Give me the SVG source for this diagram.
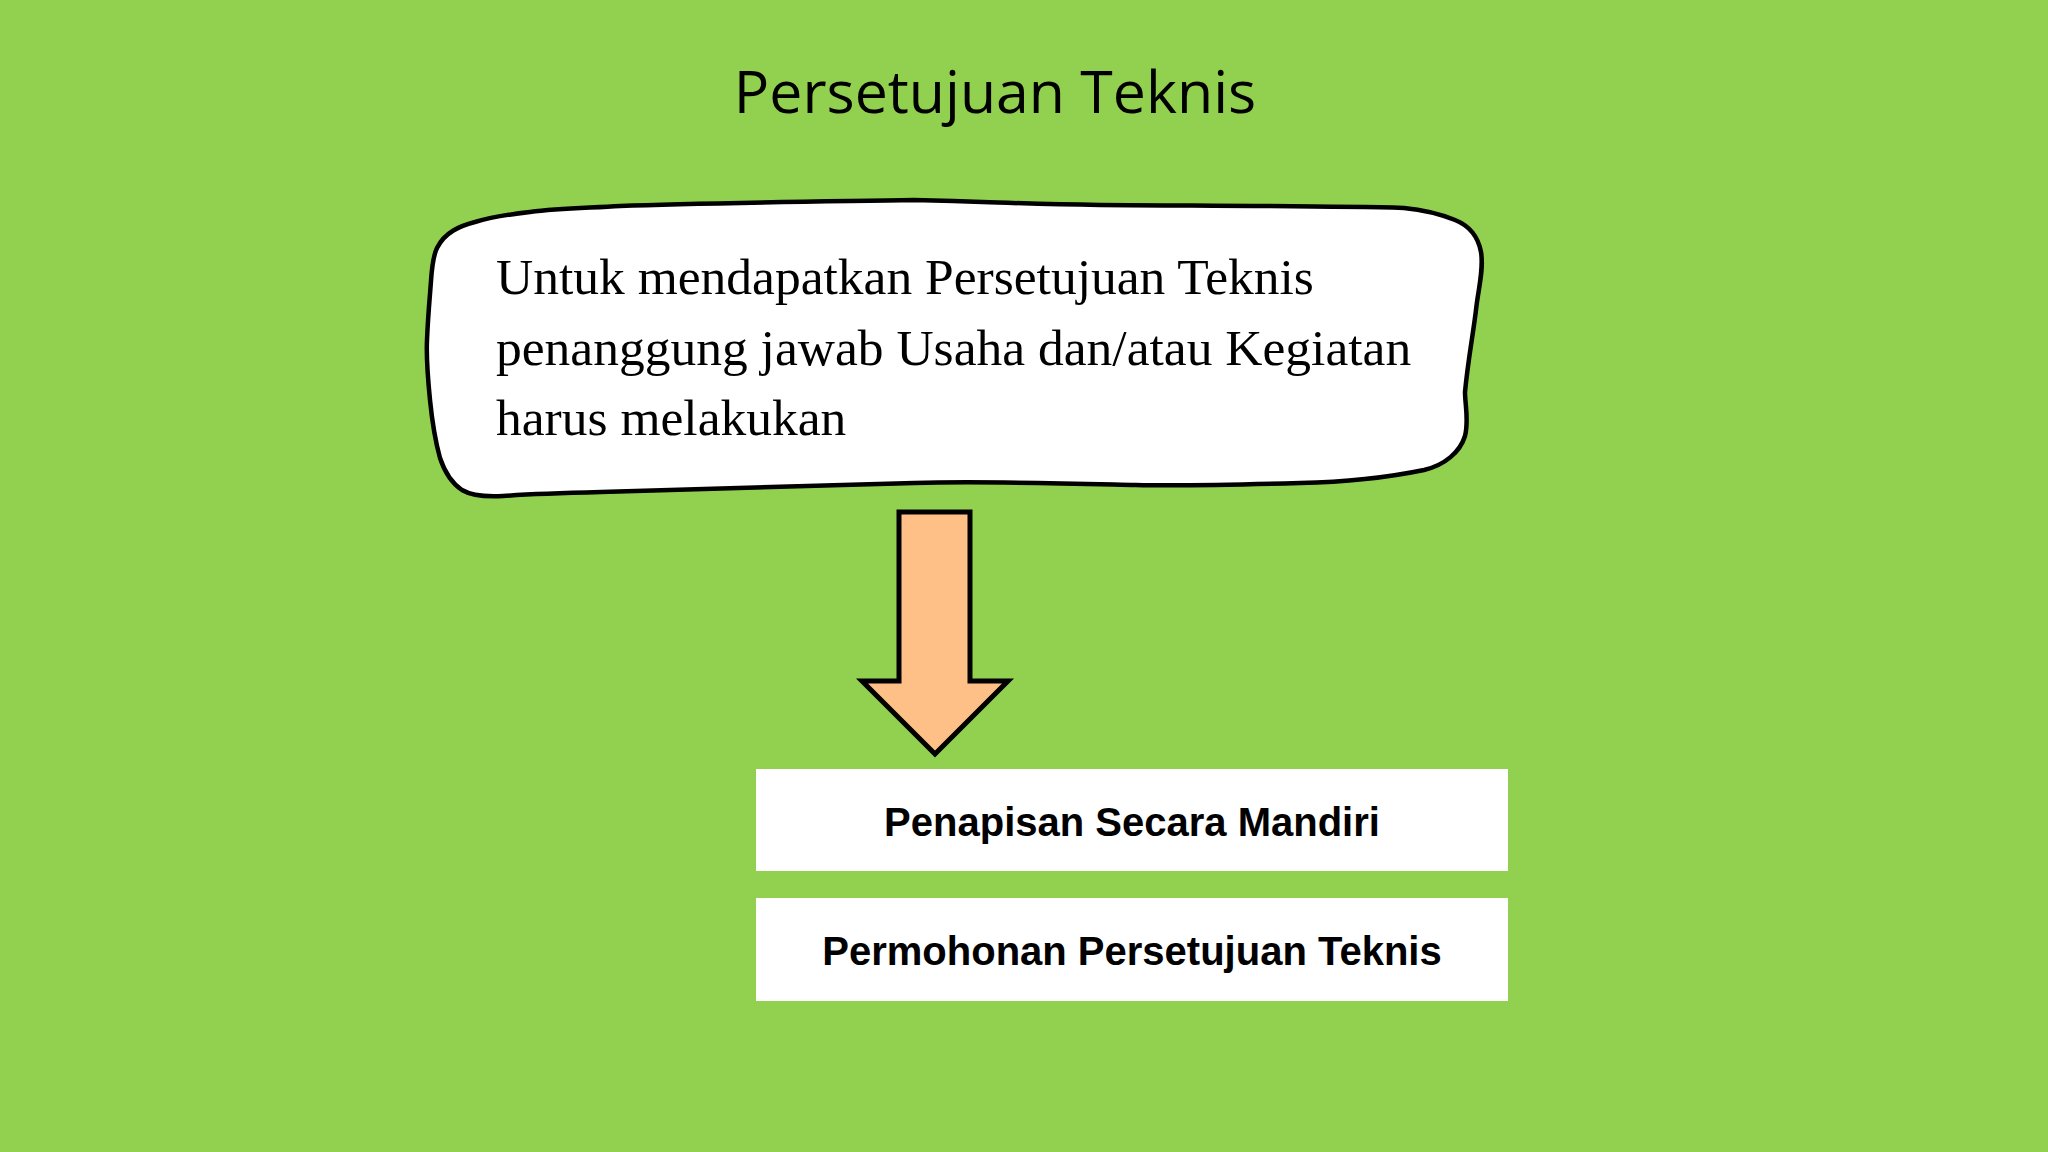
<svg xmlns="http://www.w3.org/2000/svg" width="2048" height="1152" viewBox="0 0 2048 1152">
<style>
.title{font-family:"Open Sans","Noto Sans",sans-serif;font-size:59px;fill:#000}
.cloudtxt{font-family:"Liberation Serif","Times New Roman",serif;font-size:51.5px;fill:#000}
.box{fill:#fff}
.boxtxt{font-family:"Liberation Sans",Arial,sans-serif;font-weight:bold;font-size:40px;fill:#000;text-anchor:middle}
</style>
<rect width="2048" height="1152" fill="#92D050"/>
<text class="title" x="995" y="113" text-anchor="middle">Persetujuan Teknis</text>
<g id="cloud">
<path d="M437,248 C445,232 460,226 475,222 C495,216 512,214 530,212 C560,208 590,208 620,206 C700,203 790,202 914,200 C1000,202 1020,204 1100,205 C1250,206 1330,206 1404,208 C1425,210 1440,214 1455,220 C1470,226 1478,236 1481,252 C1484,270 1478,290 1476,310 C1473,335 1468,360 1465,392 C1465,405 1469,420 1465,436 C1460,452 1445,465 1424,470 C1390,477 1350,482 1300,483 C1230,485 1180,486 1136,485 C1050,483 980,481 914,483 C800,486 700,489 601,492 C560,493 530,494 503,496 C485,497 472,496 462,490 C450,482 444,470 440,458 C435,440 432,420 430,400 C428,380 426,360 427,340 C428,315 430,295 431,281 C432,266 433,256 437,248 Z" fill="#fff" stroke="#000" stroke-width="4.5" stroke-linejoin="round"/>
<text class="cloudtxt" x="496" y="294">Untuk mendapatkan Persetujuan Teknis</text>
<text class="cloudtxt" x="496" y="365">penanggung jawab Usaha dan/atau Kegiatan</text>
<text class="cloudtxt" x="496" y="435">harus melakukan</text>
</g>
<g id="connectors">
<path d="M899,512 L970,512 L970,681 L1008,681 L935,754 L862,681 L899,681 Z" fill="#FFC088" stroke="#000" stroke-width="5" stroke-linejoin="miter"/>
</g>
<g id="box1">
<rect class="box" x="756" y="769" width="752" height="102"/>
<text class="boxtxt" x="1132" y="836">Penapisan Secara Mandiri</text>
</g>
<g id="box2">
<rect class="box" x="756" y="898" width="752" height="103"/>
<text class="boxtxt" x="1132" y="965">Permohonan Persetujuan Teknis</text>
</g>
</svg>
